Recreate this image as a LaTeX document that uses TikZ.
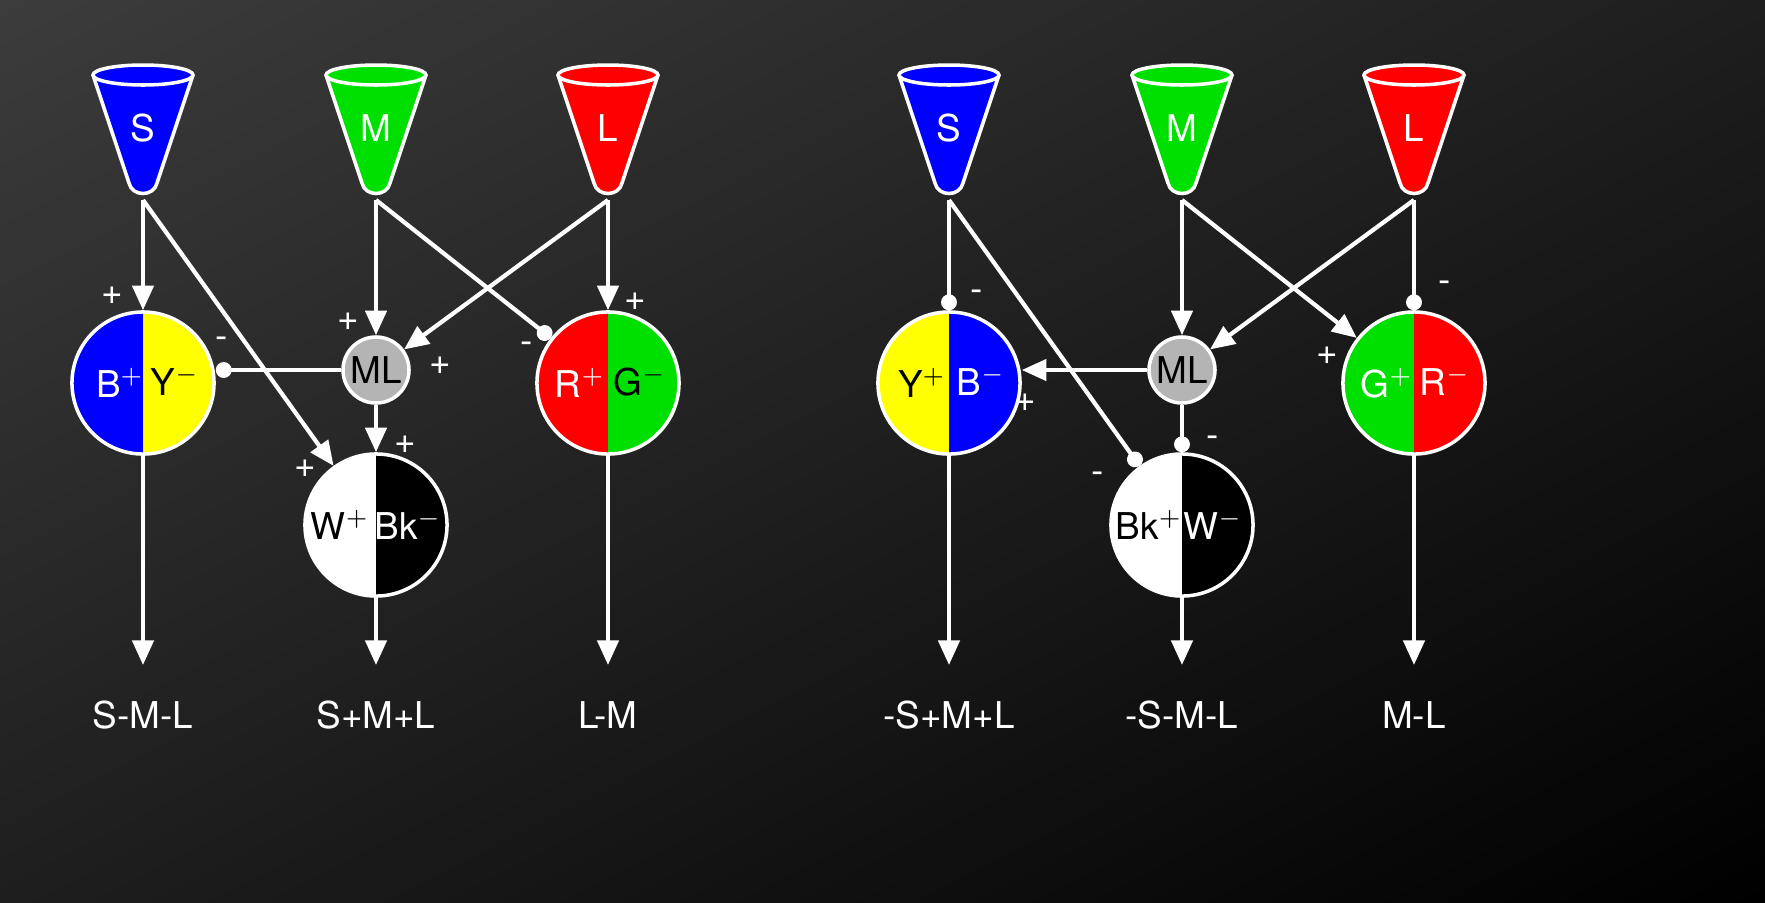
\documentclass[tikz,border=0pt]{standalone}
\usepackage{fontspec}
\setmainfont{TeX Gyre Heros}
\usetikzlibrary{arrows.meta,shadings}
\definecolor{bgA}{HTML}{3C3C3C}
\definecolor{bgB}{HTML}{1E1E1E}
\definecolor{bgC}{HTML}{000000}
\definecolor{cb}{HTML}{0000FF}
\definecolor{cg}{HTML}{00E000}
\definecolor{cr}{HTML}{FF0000}
\definecolor{cy}{HTML}{FFFF00}
\definecolor{cml}{HTML}{B4B4B4}
\tikzset{
 lnk/.style={draw=white, line width=1.2pt},
 exc/.style={lnk, -{Triangle[length=7pt,width=6pt]}},
 inh/.style={lnk, -{Circle[length=4.5pt]}},
 lab/.style={text=white, font=\fontsize{10.5}{11}\selectfont, inner sep=0},
 blab/.style={text=black, font=\fontsize{10.5}{11}\selectfont, inner sep=0},
 unit/.style 2 args={circle, draw=white, line width=1pt, minimum size=1.42cm, inner sep=0,
   path picture={\fill[#1] (path picture bounding box.north west) rectangle (path picture bounding box.south);
                 \fill[#2] (path picture bounding box.north) rectangle (path picture bounding box.south east);}},
 mlnode/.style={circle, draw=white, line width=1pt, fill=cml, minimum size=0.66cm, inner sep=0, text=black, font=\fontsize{10.5}{11}\selectfont},
}
\newcommand\conecup[4]{%
 \draw[white, line width=1pt, fill=#2] (#1-50,75) -- (#1-14,183) .. controls (#1-11,197) and (#1+11,197) .. (#1+14,183) -- (#1+50,75);
 \draw[white, line width=1pt, fill=#2] (#1,75) ellipse [x radius=50, y radius=10];
 \node[lab] (#4lab) at (#1,128) {#3};
 \coordinate (#4) at (#1,200);}
\begin{document}
\begin{tikzpicture}[x=0.01cm,y=-0.01cm]
\shade[upper left=bgA, upper right=bgB, lower left=bgB, lower right=bgC] (0,0) rectangle (1765,902);
\useasboundingbox (0,0) rectangle (1765,902);
% ---------- left panel ----------
\conecup{143}{cb}{S}{sA}
\conecup{376}{cg}{M}{mA}
\conecup{608}{cr}{L}{lA}
\node[unit={cb}{cy}] (byA) at (143,383) {};
\node[unit={cr}{cg}] (rgA) at (608,383) {};
\node[unit={white}{black}] (wbA) at (376,525) {};
\node[mlnode] (mlA) at (376,370) {ML};
\node[lab] at (120,383) {B$^{\mathbf{+}}$};
\node[blab] at (175,381) {Y$^{\mathbf{-}}$};
\node[lab] at (580,383) {R$^{\mathbf{+}}$};
\node[blab] at (640,381) {G$^{\mathbf{-}}$};
\node[blab] at (340,525) {W$^{\mathbf{+}}$};
\node[lab] at (408,525) {Bk$^{\mathbf{-}}$};
\draw[exc] (sA) -- (byA);
\draw[exc] (sA) -- (wbA);
\draw[exc] (mA) -- (mlA);
\draw[inh] (mA) -- (rgA);
\draw[exc] (lA) -- (mlA);
\draw[exc] (lA) -- (rgA);
\draw[inh] (mlA.west) -- (byA.east |- mlA.west);
\draw[exc] (mlA) -- (wbA);
\coordinate (oA1) at (143,665); \coordinate (oA2) at (376,665); \coordinate (oA3) at (608,665);
\draw[exc] (byA) -- (oA1);
\draw[exc] (wbA) -- (oA2);
\draw[exc] (rgA) -- (oA3);
\node[lab] (tA1) at (143,715) {S-M-L};
\node[lab] (tA2) at (376,715) {S+M+L};
\node[lab] (tA3) at (608,715) {L-M};
\node[lab] at (112,296) {+};
\node[lab] at (222,343) {-};
\node[lab] at (348,322) {+};
\node[lab] at (440,366) {+};
\node[lab] at (527,348) {-};
\node[lab] at (635,302) {+};
\node[lab] at (305,469) {+};
\node[lab] at (405,445) {+};
% ---------- right panel ----------
\conecup{949}{cb}{S}{sB}
\conecup{1182}{cg}{M}{mB}
\conecup{1414}{cr}{L}{lB}
\node[unit={cy}{cb}] (ybB) at (949,383) {};
\node[unit={cg}{cr}] (grB) at (1414,383) {};
\node[unit={white}{black}] (bwB) at (1182,525) {};
\node[mlnode] (mlB) at (1182,370) {ML};
\node[blab] at (922,383) {Y$^{\mathbf{+}}$};
\node[lab] at (981,381) {B$^{\mathbf{-}}$};
\node[lab] at (1387,383) {G$^{\mathbf{+}}$};
\node[lab] at (1445,381) {R$^{\mathbf{-}}$};
\node[blab] at (1149,525) {Bk$^{\mathbf{+}}$};
\node[lab] at (1213,525) {W$^{\mathbf{-}}$};
\draw[inh] (sB) -- (ybB);
\draw[inh] (sB) -- (bwB);
\draw[exc] (mB) -- (mlB);
\draw[exc] (mB) -- (grB);
\draw[exc] (lB) -- (mlB);
\draw[inh] (lB) -- (grB);
\draw[exc] (mlB.west) -- (ybB.east |- mlB.west);
\draw[inh] (mlB) -- (bwB);
\coordinate (oB1) at (949,665); \coordinate (oB2) at (1182,665); \coordinate (oB3) at (1414,665);
\draw[exc] (ybB) -- (oB1);
\draw[exc] (bwB) -- (oB2);
\draw[exc] (grB) -- (oB3);
\node[lab] (tB1) at (949,715) {-S+M+L};
\node[lab] (tB2) at (1182,715) {-S-M-L};
\node[lab] (tB3) at (1414,715) {M-L};
\node[lab] at (977,296) {-};
\node[lab] at (1098,478) {-};
\node[lab] at (1327,356) {+};
\node[lab] at (1445,287) {-};
\node[lab] at (1025,403) {+};
\node[lab] at (1213,442) {-};
\end{tikzpicture}
\end{document}
